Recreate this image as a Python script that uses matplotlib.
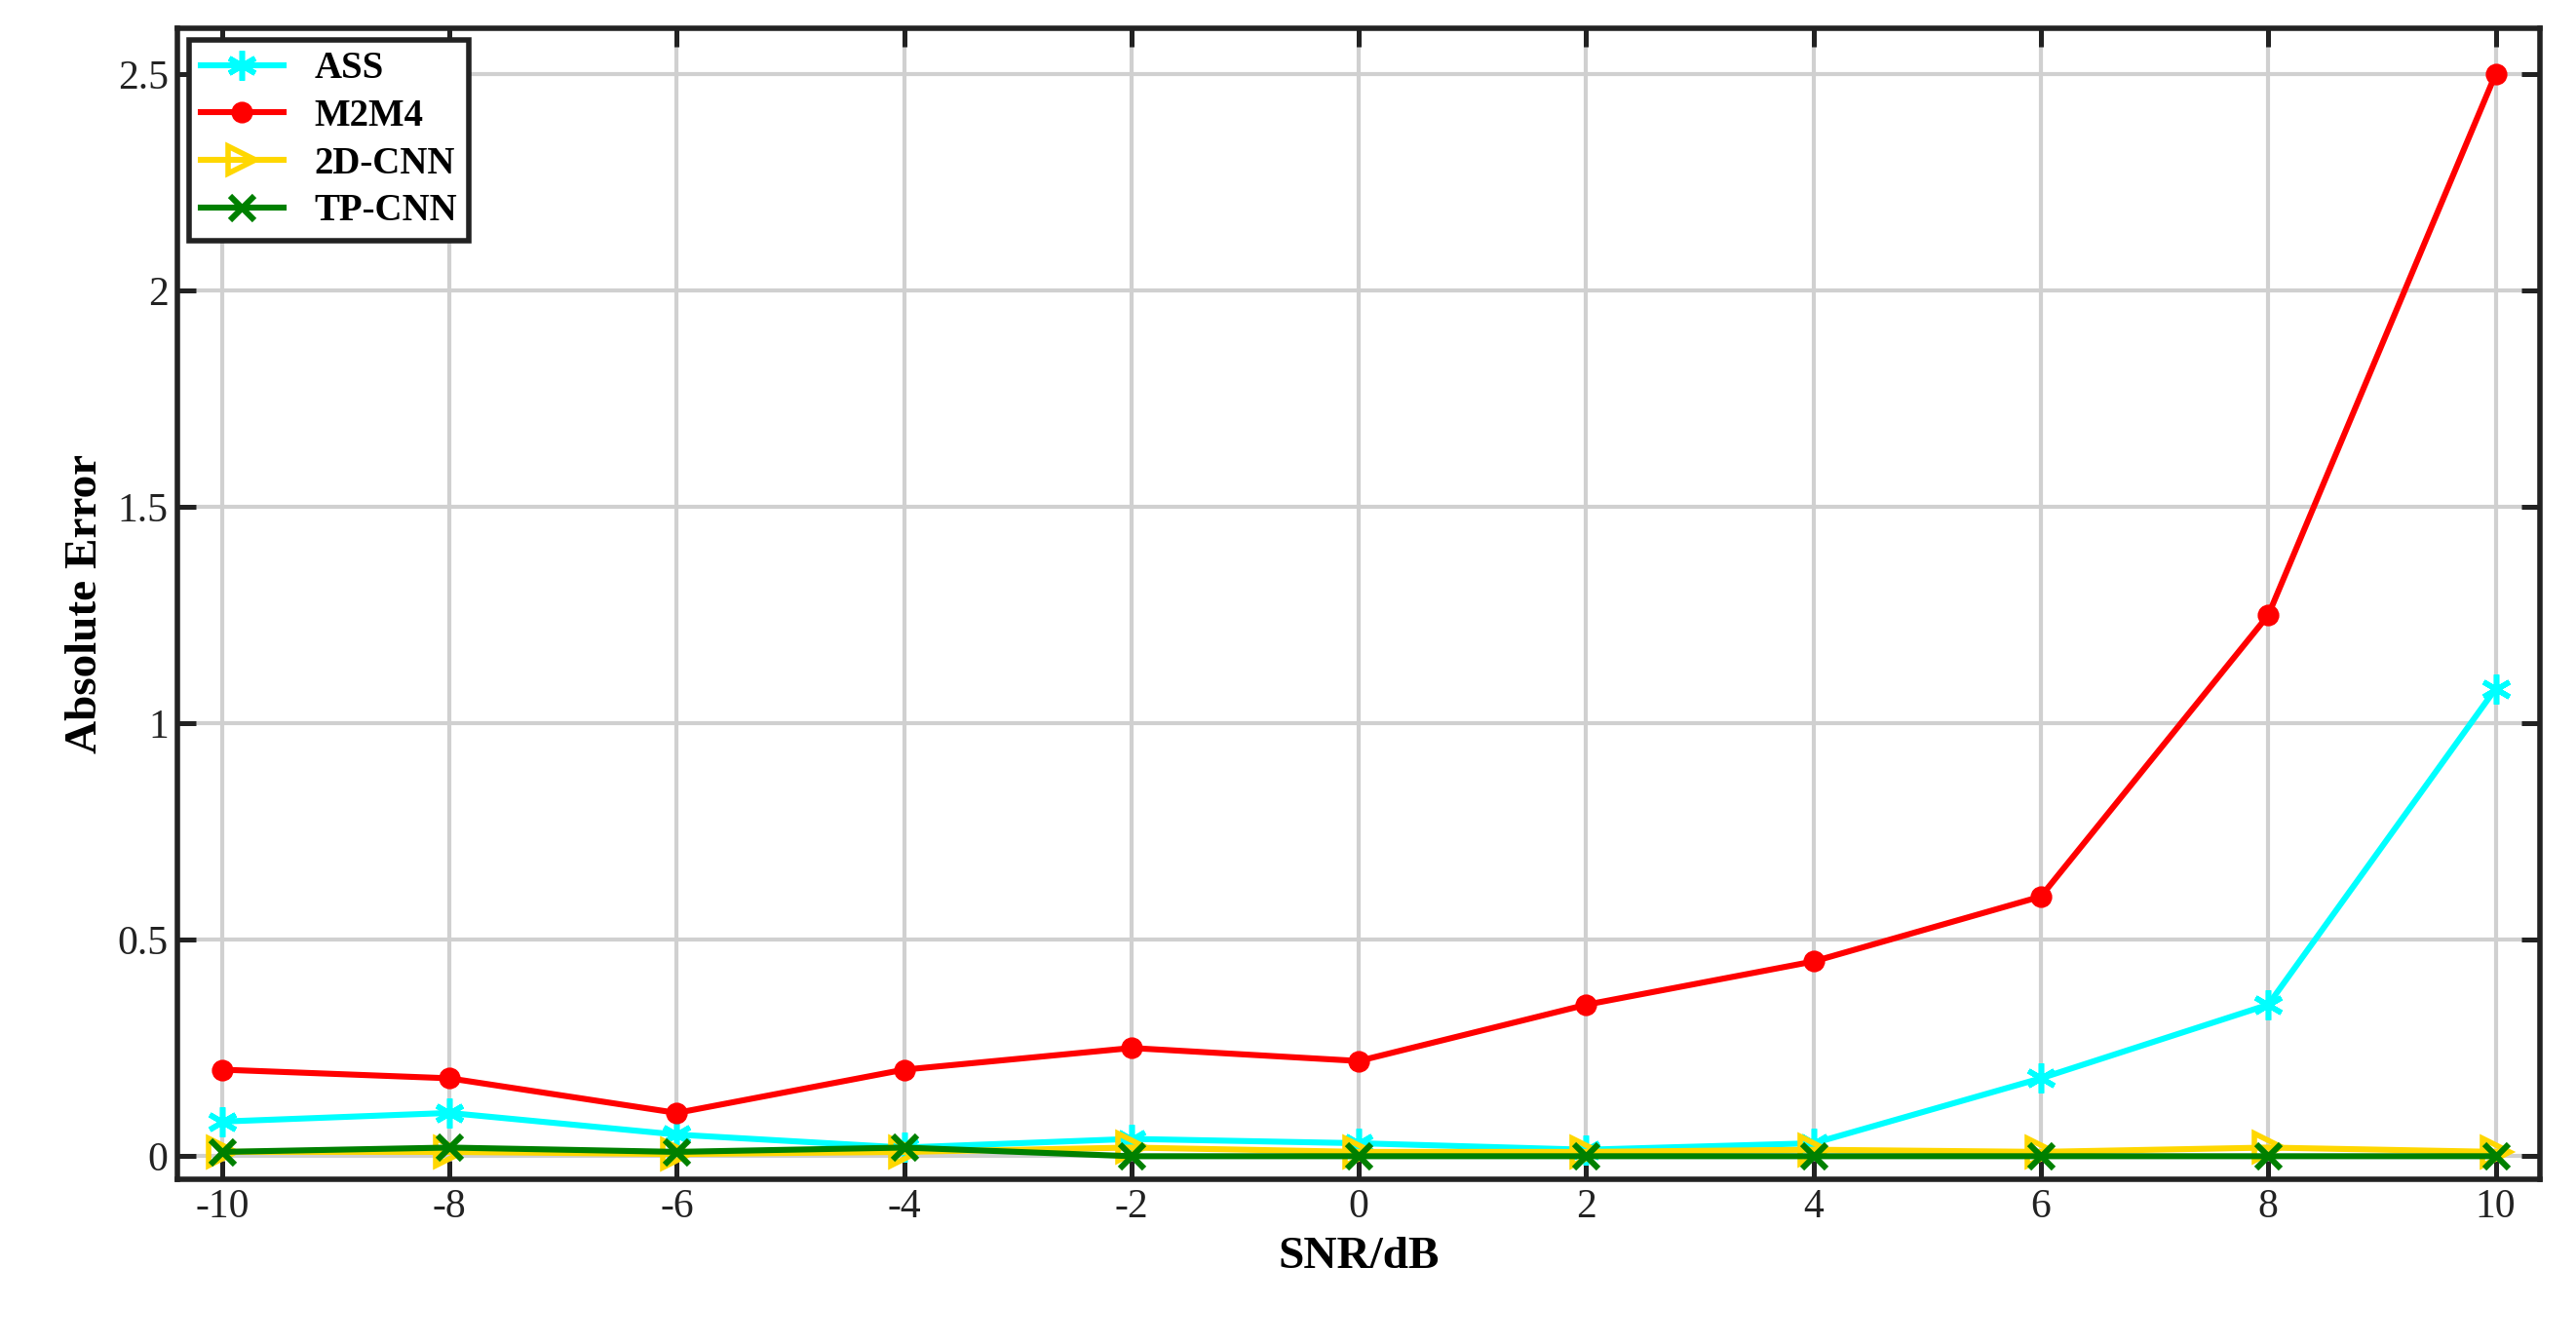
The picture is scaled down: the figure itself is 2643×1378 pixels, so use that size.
import matplotlib
matplotlib.use('Agg')
import matplotlib.pyplot as plt

snr = [-10, -8, -6, -4, -2, 0, 2, 4, 6, 8, 10]
ass = [0.08, 0.10, 0.05, 0.02, 0.04, 0.03, 0.015, 0.03, 0.18, 0.35, 1.08]
m2m4 = [0.20, 0.18, 0.10, 0.20, 0.25, 0.22, 0.35, 0.45, 0.60, 1.25, 2.50]
cnn2d = [0.01, 0.01, 0.005, 0.01, 0.02, 0.01, 0.01, 0.015, 0.01, 0.02, 0.01]
tpcnn = [0.01, 0.02, 0.01, 0.02, 0.0, 0.0, 0.0, 0.0, 0.0, 0.0, 0.0]
xticks = [-10, -8, -6, -4, -2, 0, 2, 4, 6, 8, 10]
yticks = [0, 0.5, 1, 1.5, 2, 2.5]
ytl = ['0', '0.5', '1', '1.5', '2', '2.5']

plt.rcParams['font.family'] = ['Liberation Serif', 'DejaVu Serif']
fig = plt.figure(figsize=(13.215, 6.89), dpi=200)
ax = fig.add_axes([0.069, 0.122, 0.917, 0.857])
lw = 2.2
ax.plot(snr, ass, color='cyan', marker=(6, 2, 0), ms=11, mew=2, lw=lw, label='ASS')
ax.plot(snr, m2m4, color='red', marker='o', ms=7, lw=lw, label='M2M4')
ax.plot(snr, cnn2d, color='#FFD700', marker='>', ms=10, mfc='none', mew=2, lw=lw, label='2D-CNN')
ax.plot(snr, tpcnn, color='green', marker='x', ms=9, mew=2.2, lw=lw, label='TP-CNN')
ax.set_xlim(-10.39, 10.39)
ax.set_ylim(-0.053, 2.606)
ax.set_xticks(xticks)
ax.set_xticklabels([str(v) for v in xticks])
ax.set_yticks(yticks)
ax.set_yticklabels(ytl)
ax.grid(True, color='#d0d0d0', lw=1.5)
ax.set_axisbelow(True)
for s in ax.spines.values():
    s.set_linewidth(2); s.set_color('#222222')
ax.tick_params(direction='in', length=7, width=1.8, labelsize=15, top=True, right=True, colors='#222222')
ax.set_xlabel('SNR/dB', fontsize=17, fontweight='bold')
ax.set_ylabel('Absolute Error', fontsize=17, fontweight='bold')
leg = ax.legend(loc='upper left', fontsize=14, prop={'weight': 'bold', 'size': 14}, fancybox=False,
                edgecolor='#222222', framealpha=1, borderpad=0.3, labelspacing=0.3, handlelength=2.2,
                borderaxespad=0.3)
leg.get_frame().set_linewidth(2)
fig.savefig('out.png', dpi=200)
